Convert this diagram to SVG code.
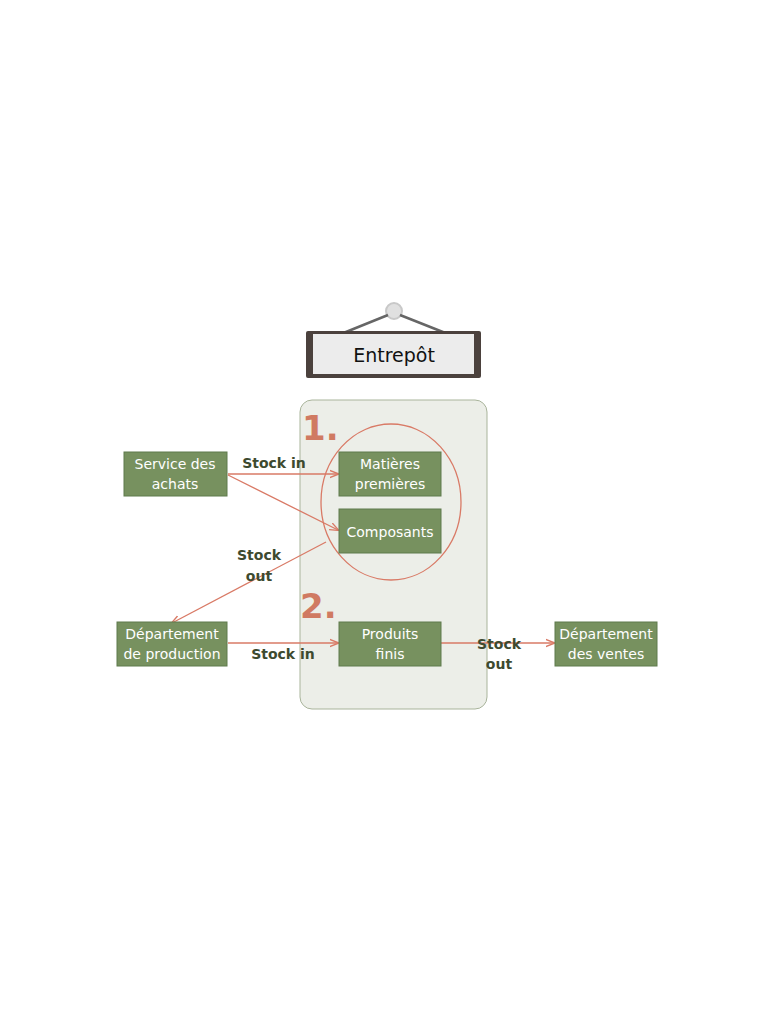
<svg xmlns="http://www.w3.org/2000/svg" width="768" height="1024" viewBox="0 0 768 1024">
<defs>
<marker id="ar" viewBox="0 0 10 10" refX="9" refY="5" markerWidth="7" markerHeight="7" orient="auto"><path d="M0,1 L10,5 L0,9" fill="none" stroke="#d97a66" stroke-width="1.5"/></marker>
</defs>
<style>
.n{fill:#77915f;stroke:#5f7a4c;stroke-width:1}
.t{font-family:"Comic Sans MS","DejaVu Sans",sans-serif;font-size:14px;fill:#fff;text-anchor:middle}
.l{font-family:"Comic Sans MS","DejaVu Sans",sans-serif;font-size:14px;font-weight:bold;fill:#3d4a2f;text-anchor:middle}
.c{stroke:#d97a66;stroke-width:1.3;fill:none}
.num{font-family:"DejaVu Sans",sans-serif;font-size:34px;font-weight:bold;fill:#d07a62}
</style>
<rect x="300" y="400" width="187" height="309" rx="12" fill="#eceee8" stroke="#a9b49b"/>
<g id="sign">
<circle cx="394" cy="311" r="8" fill="#e0e0e0" stroke="#c8c8c8" stroke-width="2"/>
<path d="M336,336 L388,315 M400,315 L453,336" stroke="#666" stroke-width="2.5"/>
<rect x="306" y="331" width="175" height="47" rx="2" fill="#4b413d"/>
<rect x="313" y="334" width="161" height="40" fill="#ececec"/>
<text x="394" y="362" font-family="Comic Sans MS,DejaVu Sans,sans-serif" font-size="19" text-anchor="middle" fill="#111">Entrepôt</text>
</g>
<text class="num" x="302" y="440">1.</text>
<text class="num" x="300" y="618">2.</text>
<ellipse cx="391" cy="502" rx="70" ry="78" class="c"/>
<g id="connectors">
<path class="c" d="M228,474 L338,474" marker-end="url(#ar)"/>
<path class="c" d="M228,475 L338,530" marker-end="url(#ar)"/>
<path class="c" d="M326,542 L172,623" marker-end="url(#ar)"/>
<path class="c" d="M228,643 L338,643" marker-end="url(#ar)"/>
<path class="c" d="M441,643 L554,643" marker-end="url(#ar)"/>
<text class="l" x="274" y="468">Stock in</text>
<text class="l" x="259" y="560">Stock</text><text class="l" x="259" y="581">out</text>
<text class="l" x="283" y="659">Stock in</text>
<text class="l" x="499" y="649">Stock</text><text class="l" x="499" y="669">out</text>
</g>
<g id="n1"><rect class="n" x="124" y="452" width="103" height="44"/><text class="t" x="175" y="469">Service des</text><text class="t" x="175" y="489">achats</text></g>
<g id="n2"><rect class="n" x="339" y="452" width="102" height="44"/><text class="t" x="390" y="469">Matières</text><text class="t" x="390" y="489">premières</text></g>
<g id="n3"><rect class="n" x="339" y="509" width="102" height="44"/><text class="t" x="390" y="537">Composants</text></g>
<g id="n4"><rect class="n" x="117" y="622" width="110" height="44"/><text class="t" x="172" y="639">Département</text><text class="t" x="172" y="659">de production</text></g>
<g id="n5"><rect class="n" x="339" y="622" width="102" height="44"/><text class="t" x="390" y="639">Produits</text><text class="t" x="390" y="659">finis</text></g>
<g id="n6"><rect class="n" x="555" y="622" width="102" height="44"/><text class="t" x="606" y="639">Département</text><text class="t" x="606" y="659">des ventes</text></g>
</svg>
